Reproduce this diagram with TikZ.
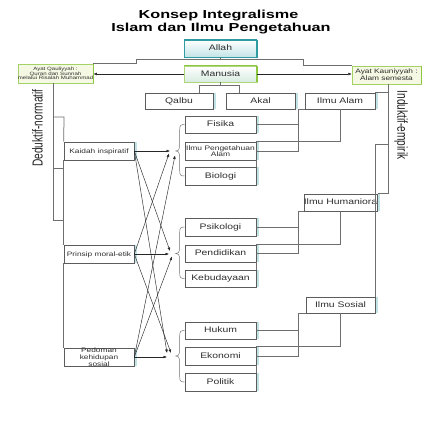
\documentclass[tikz,border=0pt]{standalone}
\usepackage{fontspec}
\setmainfont{Liberation Sans}
\newfontfamily\boxfont[FakeStretch=1.3]{Liberation Sans}
\newfontfamily\titlefont[FakeStretch=1.4]{Liberation Sans}
\newfontfamily\sidefont[FakeStretch=0.7]{Liberation Sans}
\usetikzlibrary{arrows.meta,calc}
\definecolor{linegray}{HTML}{6E6E6E}
\definecolor{boxgray}{HTML}{5C5C5C}
\definecolor{txtgray}{HTML}{2E2E2E}
\definecolor{shadowteal}{HTML}{C2E3E6}
\definecolor{tealborder}{HTML}{2E9CA0}
\definecolor{tealfill}{HTML}{C4E4E7}
\definecolor{greenborder}{HTML}{8DC63F}
\definecolor{greenfill}{HTML}{D8ECE0}
\definecolor{ayatfill}{HTML}{F5F8E2}
\begin{document}
\begin{tikzpicture}[x=1pt,y=-1pt,
  ln/.style={draw=linegray,line width=0.75pt},
  thin ln/.style={draw=linegray,line width=0.45pt},
  arr/.style={draw=black!85,line width=0.45pt,-{Latex[length=3.5pt,width=2.8pt]}},
  box/.style={draw=boxgray,line width=0.6pt,fill=white,inner sep=0pt,
    minimum width=70pt,minimum height=17pt,text=txtgray,
    font=\boxfont\fontsize{8}{8.5}\selectfont},
  onel/.style={text height=5.8pt,text depth=1.5pt},
  small/.style={font=\boxfont\fontsize{6.4}{7}\selectfont},
  tiny/.style={font=\boxfont\fontsize{4.7}{4.8}\selectfont,align=center},
  topbox/.style={box,draw=tealborder,line width=0.5pt,top color=white,bottom color=tealfill},
  manbox/.style={box,draw=greenborder!70,line width=0.5pt,top color=white,bottom color=greenfill},
  ayatbox/.style={box,draw=greenborder!80,line width=0.5pt,fill=ayatfill},
  side/.style={font=\sidefont\fontsize{14.5}{15}\selectfont,text=black!85,inner sep=0pt}
]
\useasboundingbox (0,0) rectangle (443,443);
\fill[white] (0,0) rectangle (443,443);

% title
\node[anchor=base,inner sep=0pt,font=\titlefont\bfseries\fontsize{11.6}{12}\selectfont] (t1) at (218.5,18.5) {Konsep Integralisme};
\node[anchor=base,inner sep=0pt,font=\titlefont\bfseries\fontsize{11.6}{12}\selectfont] (t2) at (221,31.7) {Islam dan Ilmu Pengetahuan};

% top nodes
\node[topbox,onel,minimum width=73pt,minimum height=17pt] (allah) at (220.5,48.5) {Allah};
\node[manbox,onel,minimum width=73pt,minimum height=16pt] (manusia) at (220.5,74) {Manusia};
\node[ayatbox,tiny,minimum width=75pt,minimum height=19pt] (qauliyyah) at (55.5,73.5) {Ayat Qauliyyah :\\Quran dan Sunnah\\melalui Risalah Muhammad};
\node[ayatbox,small,align=center,minimum width=69pt,minimum height=18pt] (kauniyyah) at (386.5,75) {Ayat Kauniyyah :\\Alam semesta};
\draw[tealborder,line width=1.8pt] (allah.north east) -- (allah.south east);
\draw[tealborder,line width=0.9pt] (allah.north west) -- (allah.north east);
\draw[greenborder,line width=1.8pt] (manusia.north east) -- (manusia.south east);
\draw[greenborder,line width=0.9pt] (manusia.north west) -- (manusia.north east);
\draw[greenborder,line width=1.5pt] (qauliyyah.north east) -- (qauliyyah.south east);
\draw[greenborder,line width=1.5pt] (kauniyyah.north east) -- (kauniyyah.south east);

% second row
\node[box,onel,minimum width=68pt,minimum height=16pt] (qalbu) at (179,101) {Qalbu};
\node[box,onel,minimum width=69pt,minimum height=16pt] (akal) at (260.5,101) {Akal};
\node[box,onel,minimum width=70pt,minimum height=16pt] (ilmualam) at (340,101) {Ilmu Alam};
\node[box,onel,minimum width=69pt,minimum height=17pt] (ilmuhum) at (340.5,202.5) {Ilmu Humaniora};
\node[box,onel,minimum width=69pt,minimum height=16pt] (ilmusos) at (340.5,305) {Ilmu Sosial};

% disciplines
\node[box,onel,minimum width=71pt] (fisika) at (220.5,124.5) {Fisika};
\node[box,font=\boxfont\fontsize{6.5}{6.6}\selectfont,align=center,minimum width=71pt,minimum height=18pt] (ipa) at (220.5,151) {Ilmu Pengetahuan\\Alam};
\node[box,onel,minimum width=71pt,minimum height=18pt] (biologi) at (220.5,176) {Biologi};
\node[box,onel,minimum width=71pt,minimum height=18pt] (psikologi) at (220.5,227) {Psikologi};
\node[box,onel,minimum width=71pt,minimum height=17pt] (pendidikan) at (220.5,253.5) {Pendidikan};
\node[box,onel,minimum width=71pt,minimum height=17pt] (kebudayaan) at (220.5,278.5) {Kebudayaan};
\node[box,onel,minimum width=71pt,minimum height=17pt] (hukum) at (220.5,330.5) {Hukum};
\node[box,onel,minimum width=71pt,minimum height=18pt] (ekonomi) at (220.5,356) {Ekonomi};
\node[box,onel,minimum width=71pt,minimum height=18pt] (politik) at (220.5,382) {Politik};

% principles
\node[box,small,onel,minimum width=70pt,minimum height=18pt] (kaidah) at (99,151) {Kaidah inspiratif};
\node[box,small,onel,minimum width=70pt,minimum height=18pt] (prinsip) at (99,254) {Prinsip moral-etik};
\node[box,minimum width=70pt,minimum height=18pt] (pedoman) at (99,357) {};
\node[small,align=center,text=txtgray,inner sep=0pt] (pedomantxt) at (pedoman.center) {Pedoman\\kehidupan\\sosial};

% shadows
\foreach \n in {qalbu,akal,ilmualam,ilmuhum,ilmusos,fisika,ipa,biologi,psikologi,pendidikan,kebudayaan,hukum,ekonomi,politik,kaidah,prinsip,pedoman}
  \fill[shadowteal] ($(\n.north east)+(0.4,0)$) rectangle ($(\n.south east)+(2.8,0)$);

% side labels
\node[side,rotate=90] (deduktif) at (37.5,128) {Deduktif-normatif};
\node[side,rotate=-90] (induktif) at (401,125) {Induktif-empirik};

% Allah connectors
\coordinate (aL) at (136,59);
\coordinate (aR) at (303,59);
\draw[ln] (allah.south) -- (allah.south |- aL);
\draw[ln] (aL) -- (aR);
\draw[ln] (aL) -- (aL |- qauliyyah.north) -- (qauliyyah.north east);
\draw[ln] (aR) -- (aR |- kauniyyah.north) -- (kauniyyah.north west);

% Manusia arrows
\draw[arr] (manusia.west) -- (manusia.west -| qauliyyah.east);
\draw[arr] (manusia.east) -- (manusia.east -| kauniyyah.west);

% Manusia to Qalbu / Akal
\coordinate (mj) at (220.5,85.5);
\draw[ln] (manusia.south) -- (mj);
\draw[ln] ($(qalbu.north)+(20,0)$) -- ($(qalbu.north)+(20,-7.5)$) -| ($(akal.north)+(-21.5,0)$);

% science groups
\coordinate (sx) at (298,0);
\foreach \t/\a/\b/\c in {ilmualam/fisika/ipa/biologi,ilmuhum/psikologi/pendidikan/kebudayaan,ilmusos/hukum/ekonomi/politik}{
  \draw[ln] (\t.south west) -- (\t.south west -| sx) |- (\b.east);
  \draw[ln] (sx |- \a.east) -- (\a.east);
  \draw[ln] (\t.south) -- (\t.south |- \b.north) -- (\b.north east);
  \draw[ln] (\b.south east) -- (\c.north east);
  \draw[thin ln] (\a.west) .. controls +(-4,0) and +(0,-4) .. ($(\a.west)+(-5,5)$)
     -- ($(\b.west)+(-5,-4)$) .. controls +(0,3) and +(2,0) .. ($(\b.west)+(-9,0)$)
     .. controls +(2,0) and +(0,-3) .. ($(\b.west)+(-5,4)$)
     -- ($(\c.west)+(-5,-5)$) .. controls +(0,4) and +(-4,0) .. (\c.west);
}

% right bracket
\coordinate (kr) at ($(kauniyyah.south)+(1.5,0)$);
\coordinate (rb) at (375,144);
\draw[ln] (kr) -- (kr |- ilmuhum.north) -- (ilmuhum.north east);
\draw[ln] (ilmualam.north east) -- (ilmualam.north east -| kr);
\draw[ln] (kr |- rb) -- (rb) -- (rb |- ilmusos.north);

% left bracket
\coordinate (kl) at ($(qauliyyah.south)+(-2.5,0)$);
\coordinate (lb1) at (64,117);
\coordinate (lb2) at (64,168);
\coordinate (lb3) at (64,220);
\draw[ln] (kl) -- (kl |- lb3) -- (lb3);
\draw[ln] (kl |- lb1) -- (lb1) -- (kaidah.north west);
\draw[ln] (kl |- lb2) -- (lb2);
\draw[ln] (kaidah.south west) -- (prinsip.north west);
\draw[ln] (prinsip.south west) -- (pedoman.north west);

% cross arrows
\coordinate (g1a) at (170,151);
\coordinate (g1b) at (169,153.5);
\coordinate (g1c) at (175,155.5);
\coordinate (g2a) at (169,254);
\coordinate (g2b) at (170,251);
\coordinate (g2c) at (172,256.5);
\coordinate (g3a) at (167,357);
\coordinate (g3b) at (167,353);
\coordinate (g3c) at (171,353);
\draw[arr] (kaidah.east) -- (g1a);
\draw[arr] (kaidah.east) -- (g2b);
\draw[arr] (kaidah.east) -- (g3b);
\draw[arr] (prinsip.east) -- (g2a);
\draw[arr] (prinsip.east) -- (g1b);
\draw[arr] (prinsip.east) -- (g3c);
\draw[arr] (pedoman.east) -- (g3a);
\draw[arr] (pedoman.east) -- (g1c);
\draw[arr] (pedoman.east) -- (g2c);
\end{tikzpicture}
\end{document}
